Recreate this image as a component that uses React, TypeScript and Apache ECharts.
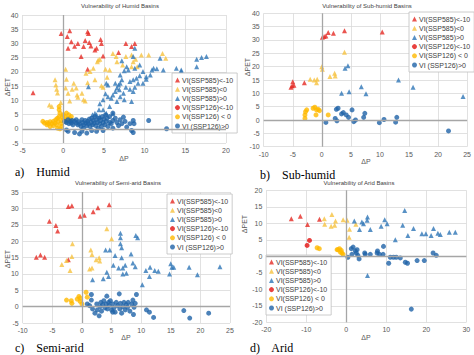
import React, { useEffect, useRef } from "react";
import * as echarts from "echarts";

const seriesNames = ["VI(SSP585)<-10", "VI(SSP585)<0", "VI(SSP585)>0", "VI(SSP126)<-10", "VI(SSP126) < 0", "VI (SSP126)>0"];
const panelTitles = ["Vulnerability of Humid Basins", "Vulnerability of Sub-humid Basins", "Vulnerability of Semi-arid Basins", "Vulnerability of Arid Basins"];
const captions = ["a)    Humid", "b)    Sub-humid", "c)    Semi-arid", "d)    Arid"];

// Humid
const humidRed585 = [[-3.7,12.7],[-0.25,33.5],[0.8,34.5],[0.5,32.4],[1.0,30.6],[0.6,28.3],[1.8,30.0],[2.5,28.9],[3.0,34.1],[3.1,33.5],[2.7,31.0],[3.2,30.3],[3.4,29.1],[3.9,27.7],[4.1,28.3],[4.6,31.4],[4.7,30.0],[2.2,25.4],[4.9,25.6],[3.0,20.9],[7.7,30.0],[8.8,30.0],[8.4,28.9],[6.8,26.8],[1.4,29.0]];
const humidYellow585 = [[-1.0,17.2],[-0.9,15.4],[-0.8,13.9],[-0.7,12.6],[-1.7,8.4],[-1.4,7.8],[-0.3,9.2],[0.3,20.9],[0.4,17.4],[0.3,14.3],[0.6,12.5],[0.8,9.8],[1.1,13.9],[1.3,16.0],[1.6,14.3],[1.7,11.9],[1.8,11.1],[2.3,12.5],[2.5,10.2],[2.7,9.8],[2.8,19.5],[3.3,20.1],[3.7,21.3],[4.2,23.6],[4.3,24.2],[4.5,24.4],[3.9,17.2],[3.0,16.2],[4.7,15.1],[4.9,14.6],[5.2,20.9],[5.4,18.1],[6.1,26.5],[6.5,25.4],[6.6,23.6],[5.7,20.7],[7.3,22.4],[7.7,25.4],[8.4,25.9],[8.6,23.6],[8.9,24.4],[9.1,21.8],[9.6,25.9],[10.5,25.9],[12.2,26.5],[12.6,24.8],[8.4,21.8]];
const humidBlue585 = [[8.8,28.3],[16.4,24.4],[17.0,25.1],[17.6,25.4],[16.4,21.8],[14.5,20.7],[14.5,20.1],[13.9,21.3],[12.3,20.7],[11.9,24.8],[11.1,21.3],[10.9,20.7],[10.7,18.9],[10.2,18.3],[9.8,20.1],[9.4,18.6],[9.0,17.8],[8.6,17.2],[8.2,16.6],[8.0,20.7],[7.8,21.8],[7.5,20.4],[7.0,18.9],[7.2,17.2],[6.8,15.4],[6.6,14.3],[6.4,13.1],[6.1,11.9],[5.9,10.7],[5.5,11.3],[5.2,12.3],[4.9,10.2],[4.5,8.8],[4.4,6.7],[3.9,5.5],[3.6,4.9],[3.1,14.8],[7.7,14.6],[8.2,13.9],[8.6,13.1],[8.8,14.6],[7.4,12.5],[7.0,11.3],[7.5,10.2],[6.6,9.6],[6.9,13.7],[6.4,16.0],[7.0,16.0],[5.5,15.4],[5.3,16.0],[9.2,16.0],[9.8,16.0],[10.2,17.4],[9.4,22.4],[8.6,25.4],[8.8,21.3],[7.2,23.9],[8.4,9.6],[11.5,21.1],[5.7,7.8],[4.9,6.7],[5.3,5.5],[6.1,5.3],[4.1,4.9],[4.5,4.3]];
const humidRed126: number[][] = [];
const humidYellow126 = [[-2.5,2.6],[-2.3,2.0],[-2.0,2.2],[-1.8,1.8],[-1.6,2.5],[-1.4,1.8],[-1.2,2.6],[-1.0,2.0],[-0.9,3.2],[-0.7,3.7],[-0.6,2.6],[-0.5,4.3],[-0.4,5.5],[-0.5,6.7],[-0.3,1.8],[-0.2,2.9],[-0.2,0.8],[-0.1,4.1],[0.0,4.9],[0.1,3.3],[0.2,4.3],[0.3,2.6],[0.4,5.5],[0.6,3.7],[0.7,4.9],[0.9,3.4],[1.0,4.3],[-0.8,1.4],[-1.2,1.1],[-1.6,0.8],[-2.0,1.4],[-0.7,0.2],[-0.4,0.0],[-0.5,7.8]];
const humidBlue126 = [[0.2,2.6],[0.4,2.2],[0.6,3.2],[0.7,1.8],[0.9,2.6],[1.0,2.0],[1.1,2.9],[1.2,1.4],[1.4,2.6],[1.6,2.0],[1.6,3.2],[1.8,1.4],[1.9,2.5],[2.0,1.8],[2.2,0.8],[2.3,3.2],[2.4,2.2],[2.5,0.2],[2.5,1.4],[2.7,2.9],[2.8,2.0],[2.9,1.1],[3.0,2.6],[3.1,1.8],[3.2,3.4],[3.3,0.8],[3.4,2.2],[3.5,3.7],[3.6,1.4],[3.7,2.9],[3.8,2.0],[3.9,4.3],[4.0,1.1],[4.1,3.2],[4.2,2.2],[4.3,0.2],[4.4,3.7],[4.5,1.8],[4.6,2.9],[4.7,0.8],[4.8,4.3],[4.9,2.2],[5.0,3.4],[5.1,1.4],[5.2,4.9],[5.3,2.6],[5.4,3.7],[5.5,0.8],[5.7,2.2],[5.7,4.3],[5.9,1.8],[6.1,2.9],[6.1,0.2],[6.4,3.7],[6.6,2.2],[6.8,1.1],[7.0,3.2],[7.2,1.8],[7.4,4.1],[7.6,2.6],[7.8,0.6],[8.2,1.8],[8.4,-0.6],[8.6,-1.3],[8.6,2.9],[8.7,1.8],[10.5,2.9],[12.7,0.0],[0.6,-0.9],[1.4,-1.3],[2.0,-1.8],[2.3,-0.9],[2.9,-1.5],[3.5,-0.6],[4.1,-0.9],[4.9,-0.6],[0.4,-0.4],[6.1,5.5]];

// Sub-humid
const subRed585 = [[-5.0,14.3],[-5.3,12.3],[-5.1,12.8],[-4.8,13.0],[-3.0,14.0],[0.1,31.0],[0.4,31.3],[0.7,31.5],[1.1,32.8],[2.0,32.5],[3.9,33.5],[10.4,33.0]];
const subYellow585 = [[-2.0,15.3],[-1.3,15.0],[-0.8,15.3],[-0.9,14.0],[0.0,20.0],[0.1,19.0],[1.4,16.3],[2.2,17.5],[2.3,16.5],[3.9,25.4]];
const subBlue585 = [[4.0,19.4],[4.5,20.3],[3.4,10.0],[4.7,10.6],[6.8,12.5],[7.6,9.8],[13.2,15.0],[15.7,12.3],[24.3,8.8]];
const subRed126: number[][] = [];
const subYellow126 = [[-2.9,1.9],[-2.8,3.1],[-2.6,3.8],[-2.9,0.6],[-1.5,4.4],[-1.2,4.8],[-0.9,3.8],[-0.6,4.0],[-0.4,3.5],[-1.0,1.9],[1.1,1.9]];
const subBlue126 = [[0.7,-0.9],[2.3,0.6],[2.5,4.0],[2.8,4.4],[2.6,-0.3],[3.4,2.3],[3.7,2.8],[4.2,1.9],[4.6,1.0],[5.2,3.8],[5.5,-0.6],[5.8,0.0],[7.2,1.0],[7.4,2.5],[9.9,-1.0],[10.7,0.2],[12.7,-0.8],[12.9,1.0],[21.8,-4.1]];

// Semi-arid
const semiRed585 = [[-7.7,15.1],[-7.0,15.8],[-6.3,15.1],[-5.5,26.1],[-4.4,24.8],[-4.1,23.1],[-2.3,30.6],[-1.7,30.8],[-0.3,27.6],[0.4,27.9],[1.9,29.0],[2.7,30.2],[4.6,31.1],[-2.3,14.3]];
const semiYellow585 = [[-3.4,12.9],[-2.6,14.1],[-2.0,11.0],[-1.7,15.3],[-1.6,19.2],[1.5,17.3],[1.7,15.9],[2.4,14.3],[2.9,14.9],[3.0,13.9],[1.3,11.5],[1.7,11.8],[4.2,23.8],[5.0,20.7]];
const semiBlue585 = [[1.8,8.2],[3.6,8.5],[4.0,17.3],[4.7,17.3],[4.2,10.5],[4.5,9.2],[5.3,12.6],[5.6,15.6],[6.5,22.4],[6.5,21.0],[6.5,19.2],[6.7,18.0],[6.7,14.9],[6.2,11.8],[6.9,11.8],[6.9,10.0],[7.3,12.6],[7.5,10.2],[8.3,16.1],[8.6,13.3],[9.0,12.2],[9.1,21.7],[9.4,21.0],[10.2,6.7],[10.8,11.0],[11.5,12.0],[11.4,9.2],[12.3,11.0],[12.9,10.8],[14.8,10.0],[15.0,13.1],[15.2,12.0],[15.5,12.0],[18.1,12.0],[19.5,9.7],[23.3,12.2]];
const semiRed126: number[][] = [];
const semiYellow126 = [[-2.6,2.0],[-1.7,1.0],[-1.8,1.8],[-0.8,2.3],[-0.5,3.1],[-0.3,1.6],[0.0,0.8],[0.7,4.4],[0.9,2.9],[-0.3,2.6]];
const semiBlue126 = [[0.9,0.8],[1.3,0.3],[1.6,3.7],[1.6,2.0],[1.8,-0.7],[2.2,-2.0],[2.5,0.8],[2.6,-1.0],[2.9,-2.8],[3.1,0.0],[3.2,1.3],[3.3,-1.4],[3.5,0.6],[3.7,1.8],[3.9,-0.4],[4.1,0.8],[4.2,3.2],[4.3,-0.7],[4.5,1.3],[4.6,0.3],[4.8,1.8],[5.0,-1.0],[5.2,0.8],[5.4,-0.4],[5.6,-1.7],[5.8,1.3],[6.0,0.3],[6.3,3.9],[6.4,-0.7],[6.5,1.0],[6.7,-2.0],[6.9,0.0],[7.1,1.3],[7.3,-1.0],[7.5,0.6],[7.7,-0.2],[7.8,1.3],[8.1,-1.4],[8.4,0.8],[8.6,2.0],[8.8,-0.2],[9.0,1.0],[9.2,3.7],[8.7,-2.4],[5.2,-1.7],[10.9,-1.0],[11.4,-1.7],[12.1,-3.3],[17.2,-1.2],[18.2,-3.5],[21.4,-2.0]];

// Arid
const aridRed585 = [[-13.75,11.4],[-11.5,12.1],[-9.7,9.6],[-6.7,11.2]];
const aridYellow585 = [[-5.5,11.4],[-5.4,9.7],[-3.6,12.7],[-3.8,9.1],[-2.7,10.7],[-2.9,9.4],[-0.8,11.1],[0.2,10.9],[0.7,5.8],[0.8,8.2],[2.4,9.7]];
const aridBlue585 = [[2.0,10.7],[3.3,8.1],[3.9,10.4],[4.3,9.9],[5.2,10.9],[5.3,11.9],[6.0,8.1],[5.3,-5.8],[8.7,9.1],[9.6,11.1],[10.2,9.9],[12.25,5.0],[14.1,9.4],[14.6,13.9],[15.4,6.3],[16.8,8.4],[18.9,6.8],[19.9,6.8],[21.2,6.3],[21.8,8.4],[22.9,7.0],[23.5,6.6],[25.75,7.3],[27.25,7.3]];
const aridRed126 = [[-9.8,3.3],[-9.2,4.8]];
const aridYellow126 = [[-7.3,2.6],[-6.75,2.3],[-2.1,2.0],[-1.7,2.3],[-1.25,1.8],[-1.1,1.0],[-0.8,0.6],[-1.5,1.3],[-2.3,2.0]];
const aridBlue126 = [[0.4,-0.3],[1.25,2.3],[1.7,2.8],[1.4,0.6],[2.25,1.6],[2.5,1.0],[2.7,2.0],[2.9,0.3],[3.2,-0.8],[4.6,1.0],[4.75,0.6],[6.0,0.6],[7.7,1.0],[7.8,1.6],[8.3,0.6],[9.3,3.0],[9.2,0.6],[10.6,-2.1],[11.0,-0.3],[11.8,-0.3],[12.5,-0.3],[13.5,-0.5],[14.75,-1.8],[15.3,-2.1],[17.7,-1.3],[19.5,-1.3],[21.7,1.0],[22.5,0.3],[16.25,-16.0]];

const xRanges = [[-5, 20, 5], [-10, 25, 5], [-10, 25, 5], [-20, 30, 10]];
const yRanges = [[-5, 40, 5], [-10, 40, 5], [-5, 35, 5], [-20, 20, 5]];

const panelData = [
  [humidRed585, humidYellow585, humidBlue585, humidRed126, humidYellow126, humidBlue126],
  [subRed585, subYellow585, subBlue585, subRed126, subYellow126, subBlue126],
  [semiRed585, semiYellow585, semiBlue585, semiRed126, semiYellow126, semiBlue126],
  [aridRed585, aridYellow585, aridBlue585, aridRed126, aridYellow126, aridBlue126],
];

const colors = ["#e52b24", "#f6c23e", "#2e75b6", "#e3120f", "#ffb900", "#1f63a8"];
const symbols = ["triangle", "triangle", "triangle", "circle", "circle", "circle"];

const grids = [
  { left: 22.5, top: 15, width: 203.5, height: 128 },
  { left: 263.7, top: 13.3, width: 205, height: 133.4 },
  { left: 22.7, top: 192, width: 207.3, height: 131 },
  { left: 266.3, top: 190.3, width: 200, height: 132 },
];
const legendPos = [
  { left: 172, top: 73 },
  { left: 409, top: 12 },
  { left: 167, top: 194 },
  { left: 266, top: 255 },
];
const titlePos = [[120, 3], [367, 3], [118, 180], [359, 180]];
const xNamePos = [[124, 158], [366, 161], [126, 337], [366, 337]];
const yNamePos = [[7, 87], [247, 67], [7, 259], [244, 224]];
const captionPos = [[15, 172], [260, 175], [15, 348], [250, 348]];

const FONT = "'Liberation Sans', Arial, sans-serif";

export default function App() {
  const ref = useRef<HTMLDivElement>(null);
  useEffect(() => {
    if (!ref.current) return;
    const chart = echarts.init(ref.current, undefined, { renderer: "svg" });
    const xAxis: any[] = [];
    const yAxis: any[] = [];
    const series: any[] = [];
    const legend: any[] = [];
    const graphic: any[] = [];
    for (let p = 0; p < 4; p++) {
      xAxis.push({
        type: "value", gridIndex: p, min: xRanges[p][0], max: xRanges[p][1], interval: xRanges[p][2],
        axisLine: { show: false }, axisTick: { show: false },
        axisLabel: { fontSize: 7, color: "#595959", margin: 4, fontFamily: FONT },
        splitLine: { show: true, lineStyle: { color: "#d9d9d9", width: 0.8 } },
      });
      yAxis.push({
        type: "value", gridIndex: p, min: yRanges[p][0], max: yRanges[p][1], interval: yRanges[p][2],
        axisLine: { show: false }, axisTick: { show: false },
        axisLabel: { fontSize: 7, color: "#595959", margin: 4, fontFamily: FONT },
        splitLine: { show: true, lineStyle: { color: "#d9d9d9", width: 0.8 } },
      });
      series.push({
        type: "scatter", name: "zero" + p, xAxisIndex: p, yAxisIndex: p, data: [], z: 1, silent: true,
        markLine: {
          silent: true, symbol: "none", label: { show: false },
          lineStyle: { color: "#a6a6a6", width: 1.3, type: "solid" },
          data: [{ xAxis: 0 }, { yAxis: 0 }],
        },
      });
      for (let s = 0; s < 6; s++) {
        series.push({
          type: "scatter", name: seriesNames[s], xAxisIndex: p, yAxisIndex: p, z: 3,
          data: panelData[p][s], symbol: symbols[s], symbolSize: 5,
          itemStyle: { color: colors[s] },
        });
      }
      legend.push({
        ...legendPos[p], orient: "vertical", selectedMode: false,
        data: seriesNames.map((n, i) => ({ name: n, icon: symbols[i], itemStyle: { color: colors[i] } })),
        itemWidth: 5, itemHeight: 5, itemGap: 1.2,
        padding: [3, 4, 3, 3], backgroundColor: "#ffffff", borderColor: "#bfbfbf", borderWidth: 0.8,
        textStyle: { fontSize: 7, color: "#404040", fontFamily: FONT, padding: [0, 0, 0, -3], lineHeight: 8 },
      });
      graphic.push({
        type: "text", x: titlePos[p][0], y: titlePos[p][1],
        style: { text: panelTitles[p], font: `6px ${FONT}`, fill: "#404040", textAlign: "center", textVerticalAlign: "top" },
      });
      graphic.push({
        type: "text", x: xNamePos[p][0], y: xNamePos[p][1],
        style: { text: "ΔP", font: `7px ${FONT}`, fill: "#595959", textAlign: "center", textVerticalAlign: "middle" },
      });
      graphic.push({
        type: "text", x: yNamePos[p][0], y: yNamePos[p][1], rotation: Math.PI / 2,
        style: { text: "ΔPET", font: `7px ${FONT}`, fill: "#595959", textAlign: "center", textVerticalAlign: "middle" },
      });
      graphic.push({
        type: "text", x: captionPos[p][0], y: captionPos[p][1],
        style: { text: captions[p], font: `12px 'Liberation Serif', 'Times New Roman', serif`, fill: "#000000", textAlign: "left", textVerticalAlign: "middle" },
      });
    }
    chart.setOption({
      animation: false,
      backgroundColor: "#ffffff",
      grid: grids,
      xAxis, yAxis, series, legend, graphic,
    });
    return () => chart.dispose();
  }, []);
  return <div ref={ref} style={{ position: "fixed", left: 0, top: 0, width: 474, height: 355 }} />;
}
